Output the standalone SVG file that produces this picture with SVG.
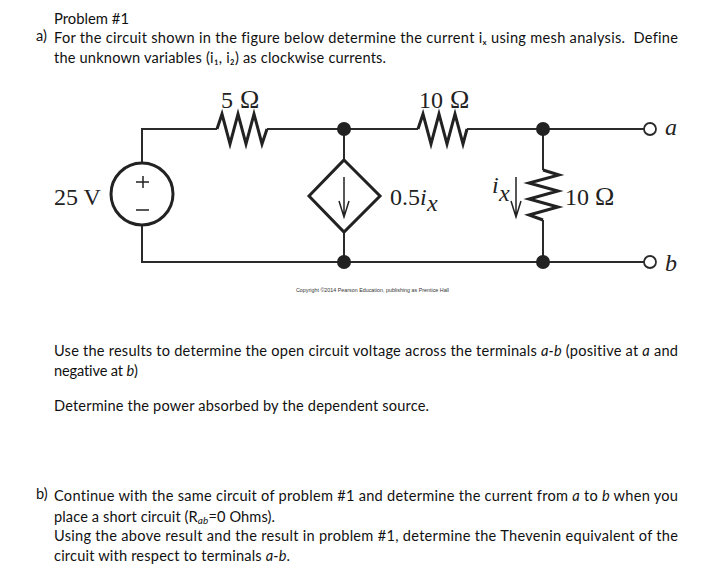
<svg xmlns="http://www.w3.org/2000/svg" width="711" height="578" viewBox="0 0 711 578">
<style>
.t{font-family:"Lato","Open Sans",sans-serif;font-size:14.6px;fill:#111;font-variant-ligatures:none}
.i{font-style:italic}
.c{font-family:"Liberation Serif",serif;font-size:24px;fill:#222}
.ci{font-style:italic}
.w{fill:none;stroke:#2a2a2a;stroke-width:2}
.s{fill:none;stroke:#222;stroke-width:3}
.d{fill:#222}
.o{fill:#fff;stroke:#2a2a2a;stroke-width:1.8}
.cp{font-family:"Liberation Sans",sans-serif;font-size:5.2px;fill:#333}
</style>
<rect width="711" height="578" fill="#fff"/>
<g id="text-top">
<text class="t" x="54" y="24" textLength="75" lengthAdjust="spacingAndGlyphs">Problem #1</text>
<text class="t" x="36" y="41">a)</text>
<text class="t" x="54" y="43" textLength="624" lengthAdjust="spacing">For the circuit shown in the figure below determine the current iₓ using mesh analysis.&#160; Define</text>
<text class="t" x="54" y="63" textLength="332" lengthAdjust="spacing">the unknown variables (i₁, i₂) as clockwise currents.</text>
</g>
<g id="connectors">
<path class="w" d="M142 163V129H217M267 129H418M467 129H644M142 225V262H644M344 129V160M344 232V262M543 129V170M543 220V262"/>
</g>
<g id="r1"><path class="s" d="M217 129L222 114L230 144L238 114L246 144L254 114L262 144L267 129"/>
<text class="c" x="221" y="108" word-spacing="1">5 <tspan font-size="26">Ω</tspan></text></g>
<g id="r2"><path class="s" d="M418 129L423 114L431 144L439 114L447 144L455 114L463 144L467 129"/>
<text class="c" x="419" y="108" word-spacing="1">10 <tspan font-size="26">Ω</tspan></text></g>
<g id="r3"><path class="s" d="M543 170L559 175L529 183L558 191L529 199L558 207L529 215L543 220"/>
<text class="c" x="565" y="205">10 <tspan font-size="26">Ω</tspan></text></g>
<g id="source"><circle class="s" cx="142" cy="194" r="31"/>
<path fill="none" stroke="#222" stroke-width="1.5" d="M136 182H149M143 176V188M136 210H149"/>
<text class="c" x="54" y="205">25 V</text></g>
<g id="dep"><path class="s" d="M344 160L380 196L344 232L309 196Z"/>
<path fill="none" stroke="#222" stroke-width="1.5" d="M344 177V217M339 201L344 217L349 201"/>
<text class="c" x="390" y="205">0.5<tspan class="ci">i</tspan></text><text class="c ci" x="427" y="211" font-size="20">x</text></g>
<g id="ix"><path fill="none" stroke="#222" stroke-width="1.5" d="M516 177V217M511 201L516 217L521 201"/>
<text class="c ci" x="492" y="193">i</text><text class="c ci" x="499" y="201" font-size="18">x</text></g>
<g id="junctions">
<circle class="d" cx="344" cy="129" r="7"/><circle class="d" cx="543" cy="129" r="7"/>
<circle class="d" cx="344" cy="262" r="7"/><circle class="d" cx="543" cy="262" r="7"/>
</g>
<g id="term-a"><circle class="o" cx="650" cy="129" r="6"/><text class="c ci" x="665" y="135">a</text></g>
<g id="term-b"><circle class="o" cx="650" cy="262" r="6"/><text class="c ci" x="665" y="271">b</text></g>
<text class="cp" x="296" y="292" textLength="153" lengthAdjust="spacingAndGlyphs">Copyright ©2014 Pearson Education, publishing as Prentice Hall</text>
<g id="text-mid">
<text class="t" x="54" y="356" textLength="624" lengthAdjust="spacing">Use the results to determine the open circuit voltage across the terminals <tspan class="i">a-b</tspan> (positive at <tspan class="i">a</tspan> and</text>
<text class="t" x="54" y="376" textLength="84" lengthAdjust="spacing">negative at <tspan class="i">b</tspan>)</text>
<text class="t" x="54" y="411" textLength="375" lengthAdjust="spacing">Determine the power absorbed by the dependent source.</text>
</g>
<g id="text-bottom">
<text class="t" x="36" y="499">b)</text>
<text class="t" x="54" y="501" textLength="624" lengthAdjust="spacing">Continue with the same circuit of problem #1 and determine the current from <tspan class="i">a</tspan> to <tspan class="i">b</tspan> when you</text>
<text class="t" x="54" y="522" textLength="221" lengthAdjust="spacing">place a short circuit (R<tspan class="i" font-size="10" dy="2">ab</tspan><tspan dy="-2">=0 Ohms).</tspan></text>
<text class="t" x="54" y="541" textLength="624" lengthAdjust="spacing">Using the above result and the result in problem #1, determine the Thevenin equivalent of the</text>
<text class="t" x="54" y="561" textLength="236" lengthAdjust="spacing">circuit with respect to terminals <tspan class="i">a-b</tspan>.</text>
</g>
</svg>
